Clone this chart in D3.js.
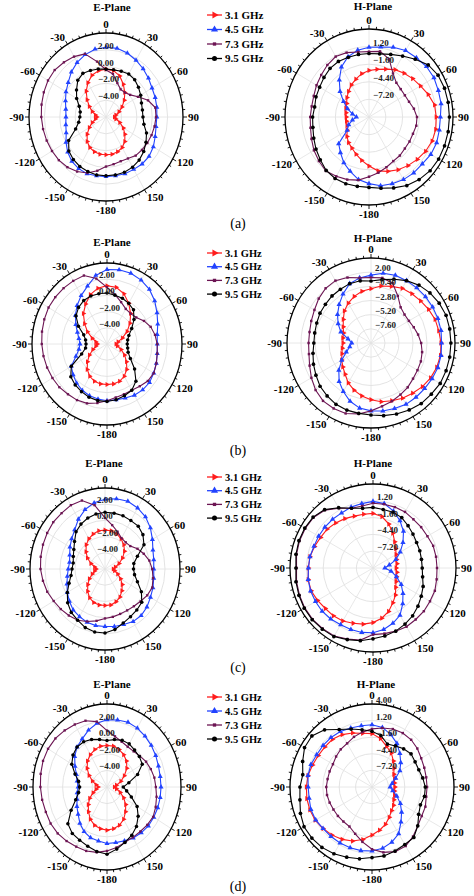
<!DOCTYPE html>
<html>
<head>
<meta charset="utf-8">
<script src="https://cdn.jsdelivr.net/npm/d3@7"></script>
<style>
body { margin: 0; background: #fff; }
svg text { font-family: "Liberation Serif", "DejaVu Serif", "Times New Roman", serif; font-weight: bold; }
</style>
</head>
<body>
<script>
// angles in degrees, 0 at top, clockwise
var angles = [0,10,20,30,40,50,60,70,80,90,100,110,120,130,140,150,160,170,180,190,200,210,220,230,240,250,260,270,280,290,300,310,320,330,340,350];
var angleLabels = [0,30,60,90,120,150,-180,-150,-120,-90,-60,-30];
var freqs = ["3.1 GHz", "4.5 GHz", "7.3 GHz", "9.5 GHz"];
var panelNames = ["(a)", "(b)", "(c)", "(d)"];

// radial tick rings (dB)
var eTicks = [2, 0, -2, -4];
var hTicksA = [1.2, -1.6, -4.4, -7.2];
var hTicksB = [2.0, -0.4, -2.8, -5.2, -7.6];
var hTicksD = [4.0, 1.2, -1.6, -4.4, -7.2];

// (a)
var aE31 = [-0.3,-0.4,-0.8,-1.5,-2.2,-2.9,-3.6,-4.2,-4.7,-4.9,-4.7,-4.1,-3.4,-2.8,-2.2,-1.8,-1.6,-1.5,-1.5,-1.5,-1.6,-1.8,-2.2,-2.8,-3.5,-4.1,-4.6,-4.8,-4.6,-4.1,-3.5,-2.8,-2.0,-1.3,-0.7,-0.4];
var aE45 = [2.3,2.3,2.1,1.8,1.5,1.2,0.9,0.8,0.7,0.6,0.6,0.8,1.1,1.3,1.3,1.2,1.2,1.1,1.1,1.1,1.2,1.1,0.9,0.5,0.0,-0.5,-0.7,-0.8,-0.7,-0.4,0.0,0.4,1.0,1.5,1.9,2.2];
var aE73 = [-0.4,-0.8,-1.7,-2.2,-2.2,-1.9,-1.2,-0.2,0.5,0.5,0.4,0.3,0.2,0.1,0.0,-0.3,-0.4,-0.3,-0.1,0.5,1.1,1.5,1.8,2.0,2.1,2.2,2.3,2.4,2.5,2.6,2.7,2.7,2.5,2.3,2.0,0.7];
var aE95 = [-0.3,-0.3,-0.2,-0.1,-0.2,-0.5,-0.8,-1.1,-1.2,-1.2,-1.0,-0.4,0.0,0.4,0.7,0.9,1.0,1.0,1.0,1.0,0.9,0.8,0.6,0.3,-0.4,-1.8,-2.4,-2.6,-2.6,-2.3,-1.6,-1.0,-0.3,0.0,-0.1,-0.2];
var aH31 = [-2.6,-2.3,-1.9,-1.3,-0.9,-0.5,-0.1,0.5,1.1,1.2,1.3,1.2,0.9,0.5,0.1,-0.3,-0.8,-1.3,-2.2,-3.0,-3.7,-4.3,-4.7,-5.2,-5.8,-6.1,-6.2,-6.2,-6.1,-5.9,-5.7,-5.2,-4.7,-4.1,-3.6,-3.0];
var aH45 = [1.1,1.3,1.8,2.2,2.3,2.5,2.5,2.3,2.2,1.9,1.9,2.0,1.9,1.6,1.6,1.5,1.3,1.1,0.6,0.1,-0.8,-1.6,-2.6,-3.4,-5.8,-6.4,-7.2,-7.9,-7.2,-6.2,-5.1,-3.7,-2.3,-0.8,0.2,0.8];
var aH73 = [0.4,0.6,-0.2,-2.0,-2.9,-3.1,-3.1,-2.9,-2.4,-2.0,-2.0,-2.2,-2.2,-2.2,-2.0,-1.9,-1.5,-1.0,-0.5,0.2,0.6,0.9,1.2,0.9,0.6,0.2,-0.1,-0.2,-0.3,-0.2,0.1,0.4,0.8,1.1,0.9,0.5];
var aH95 = [0.1,0.2,0.6,1.2,2.0,2.9,3.3,3.4,3.4,3.4,3.4,3.4,3.4,3.3,3.0,2.6,2.0,1.5,1.2,1.2,1.3,1.3,1.1,0.6,0.2,-0.2,-0.5,-0.6,-0.8,-0.6,-0.5,-0.2,0.1,0.2,0.1,0.1];

// (b)
var bE31 = [1.2,1.1,0.6,-0.2,-1.1,-2.0,-2.9,-3.8,-4.5,-4.8,-4.6,-4.0,-3.3,-2.6,-1.9,-1.4,-1.1,-1.0,-1.0,-1.0,-1.1,-1.4,-1.9,-2.6,-3.3,-4.0,-4.5,-4.7,-4.5,-3.9,-3.0,-2.1,-1.1,-0.3,0.5,1.0];
var bE45 = [3.2,3.3,3.3,3.1,2.8,2.3,1.7,1.2,0.8,0.7,0.8,1.0,1.2,1.4,1.4,1.3,1.1,1.0,1.0,0.9,0.8,0.6,0.3,-0.1,-0.5,-1.6,-2.2,-2.4,-2.2,-1.8,-1.2,-0.5,0.2,0.9,1.6,2.6];
var bE73 = [1.0,0.2,-0.5,-1.0,-1.1,-0.9,-0.3,0.2,0.5,0.7,0.8,1.0,1.2,1.1,0.8,0.6,0.6,0.7,1.0,1.4,1.8,2.0,2.1,2.3,2.4,2.5,2.6,2.7,2.8,2.9,3.0,3.0,3.0,3.0,3.0,2.2];
var bE95 = [0.3,0.1,0.0,-0.2,-0.5,-1.3,-2.2,-2.9,-3.2,-3.3,-3.2,-3.0,-2.4,-1.2,0.0,0.6,0.8,1.0,1.1,1.1,1.0,0.8,0.6,0.3,-0.5,-2.4,-3.1,-3.2,-3.1,-2.7,-1.6,-0.6,-0.1,0.2,0.3,0.3];
var bH31 = [-0.8,-0.2,0.2,0.7,0.9,1.1,1.4,1.7,1.8,2.0,2.1,2.0,1.8,1.5,1.1,0.8,0.4,0.1,-0.4,-0.9,-1.5,-2.2,-3.1,-3.7,-4.2,-4.7,-5.0,-5.2,-5.1,-5.0,-4.5,-3.8,-2.9,-2.2,-1.6,-1.1];
var bH45 = [1.5,2.0,2.2,2.2,2.2,2.2,2.2,2.2,2.2,2.1,2.2,2.2,2.1,2.0,2.0,2.0,1.8,1.7,1.5,1.2,0.5,-0.5,-1.5,-2.8,-4.2,-5.5,-6.3,-6.7,-6.0,-4.5,-3.5,-2.5,-1.5,-0.4,0.7,1.2];
var bH73 = [1.1,1.2,0.8,-0.8,-2.1,-2.5,-2.5,-2.2,-1.8,-1.4,-1.1,-0.9,-0.8,-0.6,-0.2,0.1,0.5,0.9,1.5,2.2,2.7,2.8,2.8,2.4,1.8,1.2,0.8,0.7,0.7,0.9,1.2,1.7,2.1,2.2,1.8,1.2];
var bH95 = [0.5,0.9,1.5,2.2,2.8,3.2,3.5,3.7,3.7,3.7,3.7,3.7,3.7,3.5,3.4,3.1,2.8,2.5,2.2,2.1,2.1,2.0,1.7,1.4,0.9,0.5,0.1,-0.2,-0.2,-0.1,0.1,0.2,0.4,0.5,0.7,0.7];

// (c)
var cE31 = [-1.2,-1.2,-1.4,-1.7,-2.1,-2.6,-3.3,-4.0,-4.6,-4.9,-4.7,-4.2,-3.6,-3.0,-2.5,-2.0,-1.7,-1.5,-1.5,-1.5,-1.6,-1.9,-2.4,-3.0,-3.6,-4.2,-4.6,-4.8,-4.6,-4.0,-3.3,-2.7,-2.1,-1.7,-1.4,-1.2];
var cE45 = [2.6,2.8,2.9,2.7,2.4,1.9,1.3,0.8,0.6,0.5,0.6,0.8,1.0,1.3,1.5,1.5,1.3,1.2,1.1,1.1,1.0,0.8,0.6,0.2,-0.2,-0.6,-0.9,-1.1,-1.2,-1.0,-0.6,-0.2,0.3,1.1,1.8,2.3];
var cE73 = [0.3,-0.5,-1.1,-1.6,-1.7,-1.6,-1.0,-0.5,0.0,0.3,0.5,0.7,0.5,0.2,0.0,-0.1,-0.1,0.0,0.1,0.5,0.9,1.3,1.5,1.7,1.9,2.2,2.4,2.6,2.7,2.8,2.9,3.0,3.0,3.1,3.0,2.0];
var cE95 = [1.0,1.0,1.0,0.9,0.9,0.6,0.0,-1.4,-2.1,-2.2,-2.0,-1.4,-0.4,0.4,0.6,0.8,1.1,1.6,1.9,1.9,1.7,1.3,1.0,0.5,-0.2,-0.9,-1.4,-1.6,-1.7,-1.5,-1.2,-0.7,0.0,0.4,0.7,0.9];
var cH31 = [-0.9,-1.3,-2.2,-3.3,-4.3,-5.0,-5.5,-5.8,-5.9,-6.1,-5.9,-5.8,-5.5,-5.0,-4.1,-3.3,-2.3,-1.5,-0.9,-0.5,-0.2,0.2,0.4,0.5,0.8,1.1,1.1,0.9,0.8,0.5,0.2,0.1,-0.2,-0.5,-0.8,-0.9];
var cH45 = [1.1,0.9,0.1,-0.9,-2.0,-3.4,-4.7,-5.9,-7.2,-8.0,-6.9,-5.8,-4.5,-3.4,-2.2,-0.9,-0.2,0.4,0.8,0.9,0.9,0.9,1.1,1.2,1.2,1.2,1.1,0.9,0.8,0.6,0.6,0.6,0.6,0.6,0.8,0.9];
var cH73 = [0.8,0.8,0.8,0.8,0.6,0.6,0.6,0.8,0.8,0.8,0.9,1.1,1.1,1.2,1.2,1.3,1.2,1.1,1.1,2.2,2.6,3.1,3.2,3.3,3.3,3.2,3.1,2.9,3.1,3.2,3.2,3.1,2.6,1.5,0.6,0.5];
var cH95 = [0.1,-0.1,-0.1,-0.3,-0.8,-1.2,-1.5,-1.6,-1.7,-1.7,-1.5,-1.0,-0.6,-0.1,0.4,0.8,1.2,1.5,1.8,2.3,2.7,3.2,3.3,3.4,3.4,3.3,3.2,3.0,3.2,3.3,3.3,3.2,2.7,1.6,0.6,0.1];

// (d)
var dE31 = [-1.0,-1.0,-1.2,-1.5,-1.9,-2.5,-3.3,-4.0,-4.7,-5.0,-4.7,-4.1,-3.4,-2.7,-2.1,-1.5,-1.1,-0.9,-0.8,-0.9,-1.1,-1.5,-2.1,-2.7,-3.3,-4.0,-4.5,-4.8,-4.5,-3.9,-3.2,-2.5,-1.9,-1.5,-1.2,-1.0];
var dE45 = [2.1,2.2,2.3,2.2,2.0,1.8,1.6,1.4,1.3,1.3,1.3,1.3,1.3,1.3,1.2,1.1,0.9,0.8,0.8,0.6,0.5,0.2,-0.3,-0.9,-1.3,-1.7,-1.9,-2.1,-1.9,-1.6,-1.0,-0.3,0.3,0.7,1.3,1.8];
var dE73 = [0.8,0.2,-0.2,-0.4,-0.4,-0.2,0.1,0.3,0.5,0.6,0.8,1.0,1.2,1.1,1.0,1.0,1.1,1.4,1.7,2.0,2.2,2.3,2.5,2.7,2.8,2.8,2.9,3.0,3.1,3.2,3.2,3.1,2.9,2.7,2.5,2.0];
var dE95 = [-0.4,-0.2,0.0,0.0,-0.2,-0.3,-0.5,-1.6,-3.0,-3.8,-3.3,-2.5,-1.3,-0.5,0.2,0.7,1.1,1.6,2.1,1.9,1.6,1.4,1.3,0.9,-0.4,-1.5,-2.1,-2.3,-2.1,-1.4,-0.5,0.0,0.3,0.3,0.1,-0.2];
var dH31 = [-1.0,-1.7,-2.7,-3.4,-4.3,-5.1,-5.7,-5.9,-6.1,-6.1,-6.1,-5.9,-5.7,-5.2,-4.8,-4.1,-3.3,-2.6,-1.9,-1.0,-0.3,0.2,0.6,0.9,1.2,1.3,1.3,1.2,1.1,0.8,0.6,0.5,0.5,0.2,-0.3,-0.8];
var dH45 = [0.5,0.2,-0.6,-1.5,-2.6,-3.6,-4.5,-5.7,-6.5,-6.9,-6.4,-5.5,-4.4,-3.4,-2.3,-0.9,-0.1,0.5,0.8,0.9,0.9,0.9,0.9,0.9,1.1,1.1,0.9,0.9,1.1,1.1,0.9,0.9,0.9,0.8,0.6,0.5];
var dH73 = [-0.2,0.1,0.4,0.5,0.4,0.1,-0.3,-0.5,-0.6,-0.6,-0.6,-0.3,-0.2,0.2,0.9,1.5,1.6,1.2,0.5,-0.6,-1.6,-2.3,-2.4,-2.4,-2.4,-2.3,-2.2,-2.2,-2.3,-2.3,-2.3,-2.0,-1.7,-1.5,-1.0,-0.6];
var dH95 = [-0.6,-1.2,-2.3,-2.0,-1.6,-1.3,-1.5,-1.5,-1.2,-0.9,-0.9,-1.2,-0.8,0.2,1.1,1.2,1.5,1.8,1.9,2.3,2.6,3.0,3.3,3.4,3.4,3.0,2.5,2.3,2.0,2.6,3.3,3.4,2.6,1.2,0.4,-0.2];

var width = 474, height = 896;
var colors = ["#ff1c1c", "#2243ff", "#6c1553", "#000000"];
var fmt = d3.format(".2f");

var svg = d3.select("body").append("svg")
    .attr("width", width)
    .attr("height", height)
    .attr("font-family", "'Liberation Serif', 'DejaVu Serif', serif");

var panels = [
    {cx: 106, cy: 117, rx: 77, ry: 84, domain: [-6, 4], ticks: eTicks, title: "E-Plane", tx: 112, ty: 11, series: [aE31, aE45, aE73, aE95]},
    {cx: 369, cy: 117, rx: 84, ry: 88, domain: [-10, 4], ticks: hTicksA, title: "H-Plane", tx: 373, ty: 10, series: [aH31, aH45, aH73, aH95]},
    {cx: 107, cy: 344, rx: 75, ry: 81, domain: [-6, 4], ticks: eTicks, title: "E-Plane", tx: 112, ty: 246, series: [bE31, bE45, bE73, bE95]},
    {cx: 371, cy: 343, rx: 84, ry: 85, domain: [-10, 4.4], ticks: hTicksB, title: "H-Plane", tx: 373, ty: 242, series: [bH31, bH45, bH73, bH95]},
    {cx: 105, cy: 569, rx: 75, ry: 81, domain: [-6, 4], ticks: eTicks, title: "E-Plane", tx: 104, ty: 467, series: [cE31, cE45, cE73, cE95]},
    {cx: 373, cy: 568, rx: 83, ry: 84, domain: [-10, 4], ticks: hTicksA, title: "H-Plane", tx: 373, ty: 467, series: [cH31, cH45, cH73, cH95]},
    {cx: 107, cy: 787, rx: 74, ry: 83, domain: [-6, 4], ticks: eTicks, title: "E-Plane", tx: 112, ty: 688, series: [dE31, dE45, dE73, dE95]},
    {cx: 372, cy: 787, rx: 82, ry: 83, domain: [-10, 4], ticks: hTicksD, title: "H-Plane", tx: 376, ty: 688, series: [dH31, dH45, dH73, dH95]}
];

// legend rows and panel captions
var legends = [
    {y: 15, step: 14.5, size: 11},
    {y: 253, step: 13.7, size: 10.5},
    {y: 477, step: 13.7, size: 10.5},
    {y: 697, step: 14, size: 10.5}
];
var captionY = [228, 455, 672, 891];

var symbolFor = function (i, size) {
    var types = [d3.symbolTriangle, d3.symbolTriangle, d3.symbolSquare, d3.symbolCircle];
    var sizes = [size, size, size * 0.5, size * 0.9];
    return d3.symbol().type(types[i]).size(sizes[i])();
};
var symbolRotate = function (i) { return i === 0 ? 90 : 0; };

var drawPanel = function (p, k) {
    var g = svg.append("g");
    var r = d3.scaleLinear().domain(p.domain).range([0, 1]).clamp(true);
    var isE = p.domain[0] === -6;
    var pt = function (a, v) {
        var t = a * Math.PI / 180;
        return [p.cx + r(v) * p.rx * Math.sin(t), p.cy - r(v) * p.ry * Math.cos(t)];
    };

    // grid rings and spokes
    g.selectAll("ellipse.ring")
        .data(p.ticks)
        .enter().append("ellipse")
        .attr("cx", p.cx).attr("cy", p.cy)
        .attr("rx", function (d) { return r(d) * p.rx; })
        .attr("ry", function (d) { return r(d) * p.ry; })
        .attr("fill", "none")
        .attr("stroke", "#dcdcdc")
        .attr("stroke-width", 0.8);
    g.selectAll("line.spoke")
        .data(d3.range(0, 360, 30))
        .enter().append("line")
        .attr("x1", p.cx).attr("y1", p.cy)
        .attr("x2", function (a) { return p.cx + p.rx * Math.sin(a * Math.PI / 180); })
        .attr("y2", function (a) { return p.cy - p.ry * Math.cos(a * Math.PI / 180); })
        .attr("stroke", "#e2e2e2")
        .attr("stroke-width", 0.8);

    // outer frame and ticks
    g.append("ellipse")
        .attr("cx", p.cx).attr("cy", p.cy)
        .attr("rx", p.rx).attr("ry", p.ry)
        .attr("fill", "none")
        .attr("stroke", "#000")
        .attr("stroke-width", 1.3);
    g.selectAll("line.tick")
        .data(d3.range(0, 360, 5))
        .enter().append("line")
        .attr("x1", function (a) { return p.cx + p.rx * Math.sin(a * Math.PI / 180); })
        .attr("y1", function (a) { return p.cy - p.ry * Math.cos(a * Math.PI / 180); })
        .attr("x2", function (a) { var l = a % 30 === 0 ? 4 : 2.5; return p.cx + (p.rx + l) * Math.sin(a * Math.PI / 180); })
        .attr("y2", function (a) { var l = a % 30 === 0 ? 4 : 2.5; return p.cy - (p.ry + l) * Math.cos(a * Math.PI / 180); })
        .attr("stroke", "#000")
        .attr("stroke-width", 0.9);

    // angle labels
    g.selectAll("text.ang")
        .data(angleLabels)
        .enter().append("text")
        .attr("x", function (v) { var s = Math.sin(v * Math.PI / 180); return p.cx + s * (p.rx + 5); })
        .attr("y", function (v) { var c = Math.cos(v * Math.PI / 180); return p.cy - c * (p.ry + 5 + 4 * Math.abs(c)); })
        .attr("dy", "0.35em")
        .attr("text-anchor", function (v) {
            var s = Math.sin(v * Math.PI / 180);
            return s > 0.3 ? "start" : (s < -0.3 ? "end" : "middle");
        })
        .attr("font-size", 11)
        .text(function (v) { return v; });

    // series
    var line = d3.line().curve(d3.curveLinearClosed);
    p.series.forEach(function (vals, i) {
        var pts = vals.map(function (v, j) { return pt(angles[j], v); });
        g.append("path")
            .attr("d", line(pts))
            .attr("fill", "none")
            .attr("stroke", colors[i])
            .attr("stroke-width", 1.1);
        g.selectAll(null)
            .data(pts)
            .enter().append("path")
            .attr("d", symbolFor(i, isE ? 11 : 12))
            .attr("transform", function (d) { return "translate(" + d[0] + "," + d[1] + ") rotate(" + symbolRotate(i) + ")"; })
            .attr("fill", colors[i]);
    });

    // radial labels
    g.selectAll("text.rad")
        .data(p.ticks)
        .enter().append("text")
        .attr("x", isE ? p.cx - 8 : p.cx + 4)
        .attr("y", function (d) { return p.cy - r(d) * p.ry - 1; })
        .attr("font-size", 9)
        .attr("fill", "#222")
        .text(function (d) { return fmt(d); });

    // title
    g.append("text")
        .attr("x", p.tx).attr("y", p.ty)
        .attr("text-anchor", "middle")
        .attr("font-size", 11)
        .text(p.title);
};

panels.forEach(drawPanel);

legends.forEach(function (L, row) {
    var g = svg.append("g");
    freqs.forEach(function (f, i) {
        var y = L.y + i * L.step;
        g.append("line")
            .attr("x1", 207).attr("x2", 222)
            .attr("y1", y).attr("y2", y)
            .attr("stroke", colors[i]).attr("stroke-width", 1.3);
        g.append("path")
            .attr("d", symbolFor(i, 22))
            .attr("transform", "translate(214.5," + y + ") rotate(" + symbolRotate(i) + ")")
            .attr("fill", colors[i]);
        g.append("text")
            .attr("x", 225).attr("y", y)
            .attr("dy", "0.35em")
            .attr("font-size", L.size)
            .text(f);
    });
    svg.append("text")
        .attr("x", 238).attr("y", captionY[row])
        .attr("text-anchor", "middle")
        .attr("font-size", 14)
        .style("font-weight", "normal")
        .text(panelNames[row]);
});
</script>
</body>
</html>
